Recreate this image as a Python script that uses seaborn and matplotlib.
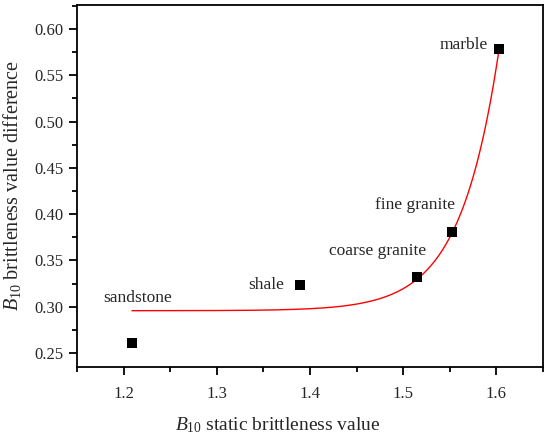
import numpy as np
import pandas as pd
import matplotlib
matplotlib.use('Agg')
import matplotlib.pyplot as plt
import matplotlib.ticker as ticker
import seaborn as sns

sns.set_theme(style="ticks")
plt.rcParams.update({
    'font.family': ['Liberation Serif', 'DejaVu Serif'],
    'mathtext.fontset': 'custom',
    'mathtext.rm': 'Liberation Serif',
    'mathtext.it': 'Liberation Serif:italic',
    'axes.linewidth': 1.3,
    'xtick.direction': 'out',
    'ytick.direction': 'out',
})

# Measured points
rocks = ['sandstone', 'shale', 'coarse granite', 'fine granite', 'marble']
static_b10 = [1.209, 1.389, 1.515, 1.552, 1.603]
b10_diff = [0.2605, 0.3234, 0.3324, 0.381, 0.578]

# Exponential fit: y = y0 + A * exp((x - x0) / t)
fit_y0 = 0.2957
fit_A = 0.2823
fit_x0 = 1.603
fit_t = 0.0416

# Label anchor points (right edge, vertical centre)
label_x = [1.252, 1.372, 1.525, 1.556, 1.591]
label_y = [0.3095, 0.3236, 0.360, 0.410, 0.583]

df = pd.DataFrame({'rock': rocks, 'x': static_b10, 'y': b10_diff})
x_fit = np.linspace(min(static_b10), max(static_b10), 300)
df_fit = pd.DataFrame({'x': x_fit,
                       'y': fit_y0 + fit_A * np.exp((x_fit - fit_x0) / fit_t)})

fig, ax = plt.subplots(figsize=(5.5, 4.41), dpi=100)
fig.subplots_adjust(left=0.14, right=0.987, top=0.989, bottom=0.168)

sns.lineplot(data=df_fit, x='x', y='y', color='red', linewidth=1.0, ax=ax)
sns.scatterplot(data=df, x='x', y='y', marker='s', color='black', s=44,
                edgecolor='black', linewidth=0, zorder=3, ax=ax)

for name, lx, ly in zip(rocks, label_x, label_y):
    ax.text(lx, ly, name, ha='right', va='center', fontsize=12.5)

ax.set_xlim(1.15, 1.65)
ax.set_ylim(0.235, 0.626)
ax.xaxis.set_major_locator(ticker.MultipleLocator(0.1))
ax.xaxis.set_minor_locator(ticker.MultipleLocator(0.05))
ax.yaxis.set_major_locator(ticker.MultipleLocator(0.05))
ax.yaxis.set_minor_locator(ticker.MultipleLocator(0.025))
ax.xaxis.set_major_formatter(ticker.FormatStrFormatter('%.1f'))
ax.yaxis.set_major_formatter(ticker.FormatStrFormatter('%.2f'))
ax.tick_params(which='major', length=6, width=1.3, labelsize=12, color='black')
ax.tick_params(axis='x', which='major', pad=8)
ax.tick_params(which='minor', length=3.5, width=1.3, color='black')
for s in ax.spines.values():
    s.set_visible(True)
    s.set_color('black')

ax.set_xlabel(r'$B_{\mathit{10}}$ static brittleness value', fontsize=14)
ax.set_ylabel(r'$B_{\mathit{10}}$ brittleness value difference', fontsize=14.5, labelpad=8)
ax.xaxis.set_label_coords(0.43, -0.135)

plt.savefig('out.png', dpi=100)
